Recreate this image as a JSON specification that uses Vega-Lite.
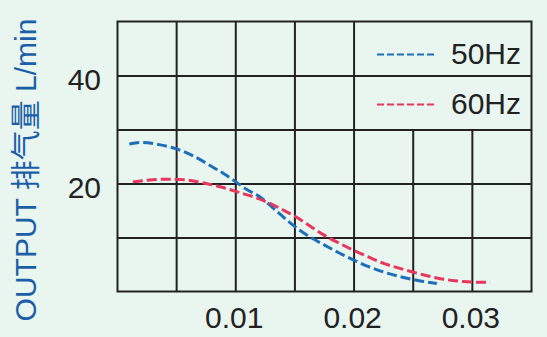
{
  "$schema": "https://vega.github.io/schema/vega-lite/v6.json",
  "autosize": "none",
  "width": 414,
  "height": 270,
  "padding": {"left": 117.5, "top": 21.5, "right": 15.5, "bottom": 45.5},
  "background": "#e9f5ef",
  "config": {
    "view": {"stroke": "#222222", "strokeWidth": 2},
    "font": "Liberation Sans, Arial, Noto Sans CJK SC"
  },
  "datasets": {
    "grid": [
      {"gx": 0.005, "gtop": 50},
      {"gx": 0.01, "gtop": 50},
      {"gx": 0.015, "gtop": 50},
      {"gx": 0.02, "gtop": 50},
      {"gx": 0.025, "gtop": 30},
      {"gx": 0.03, "gtop": 30}
    ],
    "curves": [
      {"series": "50Hz", "pressure": 0.001, "output": 27.3},
      {"series": "50Hz", "pressure": 0.002, "output": 27.6},
      {"series": "50Hz", "pressure": 0.0035, "output": 27.2},
      {"series": "50Hz", "pressure": 0.005, "output": 26.4},
      {"series": "50Hz", "pressure": 0.0065, "output": 25.0},
      {"series": "50Hz", "pressure": 0.008, "output": 23.1},
      {"series": "50Hz", "pressure": 0.009, "output": 21.8},
      {"series": "50Hz", "pressure": 0.01, "output": 20.3},
      {"series": "50Hz", "pressure": 0.011, "output": 18.8},
      {"series": "50Hz", "pressure": 0.012, "output": 17.6},
      {"series": "50Hz", "pressure": 0.0135, "output": 14.8},
      {"series": "50Hz", "pressure": 0.0145, "output": 12.9},
      {"series": "50Hz", "pressure": 0.0155, "output": 11.2},
      {"series": "50Hz", "pressure": 0.0165, "output": 9.8},
      {"series": "50Hz", "pressure": 0.0175, "output": 8.6},
      {"series": "50Hz", "pressure": 0.0185, "output": 7.4},
      {"series": "50Hz", "pressure": 0.0198, "output": 6.0},
      {"series": "50Hz", "pressure": 0.021, "output": 4.8},
      {"series": "50Hz", "pressure": 0.0225, "output": 3.6},
      {"series": "50Hz", "pressure": 0.024, "output": 2.7},
      {"series": "50Hz", "pressure": 0.0255, "output": 2.0},
      {"series": "50Hz", "pressure": 0.027, "output": 1.5},
      {"series": "60Hz", "pressure": 0.0013, "output": 20.3},
      {"series": "60Hz", "pressure": 0.003, "output": 20.7},
      {"series": "60Hz", "pressure": 0.0045, "output": 20.8},
      {"series": "60Hz", "pressure": 0.006, "output": 20.6},
      {"series": "60Hz", "pressure": 0.0075, "output": 20.0},
      {"series": "60Hz", "pressure": 0.009, "output": 19.2},
      {"series": "60Hz", "pressure": 0.0105, "output": 18.2},
      {"series": "60Hz", "pressure": 0.0118, "output": 17.3},
      {"series": "60Hz", "pressure": 0.0128, "output": 16.4},
      {"series": "60Hz", "pressure": 0.014, "output": 15.1},
      {"series": "60Hz", "pressure": 0.0151, "output": 13.8},
      {"series": "60Hz", "pressure": 0.0163, "output": 12.1},
      {"series": "60Hz", "pressure": 0.0175, "output": 10.4},
      {"series": "60Hz", "pressure": 0.0187, "output": 9.0},
      {"series": "60Hz", "pressure": 0.0198, "output": 7.8},
      {"series": "60Hz", "pressure": 0.021, "output": 6.6},
      {"series": "60Hz", "pressure": 0.0225, "output": 5.2},
      {"series": "60Hz", "pressure": 0.024, "output": 4.2},
      {"series": "60Hz", "pressure": 0.0255, "output": 3.3},
      {"series": "60Hz", "pressure": 0.027, "output": 2.5},
      {"series": "60Hz", "pressure": 0.0285, "output": 2.0},
      {"series": "60Hz", "pressure": 0.03, "output": 1.75},
      {"series": "60Hz", "pressure": 0.0315, "output": 1.7}
    ]
  },
  "layer": [
    {
      "data": {"name": "grid"},
      "mark": {"type": "rule", "color": "#222222", "strokeWidth": 2},
      "encoding": {
        "x": {"field": "gx", "type": "quantitative", "scale": {"domain": [0, 0.035], "nice": false}},
        "y": {"field": "gtop", "type": "quantitative"},
        "y2": {"datum": 0}
      }
    },
    {
      "data": {"name": "curves"},
      "mark": {"type": "line", "strokeWidth": 3, "strokeDash": [10, 4], "interpolate": "monotone"},
      "encoding": {
        "x": {
          "field": "pressure", "type": "quantitative",
          "scale": {"domain": [0, 0.035], "nice": false},
          "axis": {
            "values": [0.01, 0.02, 0.03], "format": ".2f", "title": null,
            "grid": false, "ticks": false, "domain": false,
            "labelFontSize": 30, "labelColor": "#222222", "labelPadding": 12, "labelOffset": -2
          }
        },
        "y": {
          "field": "output", "type": "quantitative",
          "scale": {"domain": [0, 50], "nice": false},
          "axis": {
            "values": [10, 20, 30, 40],
            "labelExpr": "datum.value == 20 || datum.value == 40 ? datum.label : ''",
            "grid": true, "gridColor": "#222222", "gridWidth": 2, "gridOpacity": 1,
            "ticks": false, "domain": false,
            "labelFontSize": 30, "labelColor": "#222222", "labelPadding": 17, "labelOffset": 5,
            "title": "OUTPUT 排气量 L/min", "titleColor": "#1a5fa8", "titleFontSize": 30,
            "titleFontWeight": "normal", "titleX": -91, "titleY": 148, "titleAlign": "center", "titleBaseline": "middle", "titleAngle": 270
          }
        },
        "color": {
          "field": "series", "type": "nominal",
          "scale": {"domain": ["50Hz", "60Hz"], "range": ["#1c6fb8", "#e8365c"]},
          "legend": {
            "title": null, "orient": "none", "legendX": 274.5, "legendY": 18,
            "padding": 0,
            "symbolType": "M-3,0H3", "symbolSize": 400, "symbolStrokeWidth": 2,
            "symbolDash": [7, 3], "symbolFillColor": "transparent",
            "labelFontSize": 30, "labelColor": "#222222", "labelOffset": 29,
            "rowPadding": 20
          }
        }
      }
    }
  ]
}
